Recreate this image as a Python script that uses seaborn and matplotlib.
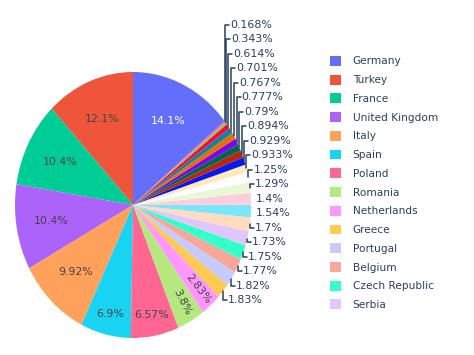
"""Pie chart of country shares, drawn in the style of a plotly pie."""

import colorsys

import matplotlib.colors as mcolors
import matplotlib.pyplot as plt
import numpy as np
import seaborn as sns

countries = [
    "Germany", "Turkey", "France", "United Kingdom", "Italy", "Spain",
    "Poland", "Romania", "Netherlands", "Greece", "Portugal", "Belgium",
    "Czech Republic", "Serbia", "Hungary", "Sweden", "Austria", "Bulgaria",
    "Denmark", "Finland", "Slovakia", "Norway", "Ireland", "Croatia",
    "Lithuania", "Slovenia", "Latvia", "Estonia", "Luxembourg",
]
shares = [
    14.1, 12.1, 10.4, 10.4, 9.92, 6.9, 6.57, 3.8, 2.83, 1.83, 1.82, 1.77,
    1.75, 1.73, 1.7, 1.54, 1.4, 1.29, 1.25, 0.933, 0.929, 0.894, 0.79,
    0.777, 0.767, 0.701, 0.614, 0.343, 0.168,
]
pct_labels = [
    "14.1%", "12.1%", "10.4%", "10.4%", "9.92%", "6.9%", "6.57%", "3.8%",
    "2.83%", "1.83%", "1.82%", "1.77%", "1.75%", "1.73%", "1.7%", "1.54%",
    "1.4%", "1.29%", "1.25%", "0.933%", "0.929%", "0.894%", "0.79%",
    "0.777%", "0.767%", "0.701%", "0.614%", "0.343%", "0.168%",
]
legend_shown = 14
base_colors = [
    "#636efa", "#EF553B", "#00cc96", "#ab63fa", "#FFA15A",
    "#19d3f3", "#FF6692", "#B6E880", "#FF97FF", "#FECB52",
]

W, H = 474, 355
CX, CY = 133, 205   # pie centre (pixels, y down)
RX, RY = 118, 133   # screenshot is stretched vertically
TEXT_DARK = "#444444"
TEXT_FONT = "#2a3f5f"
LABEL_SIZE = 7.9


def _shade(color, amount):
    r, g, b = mcolors.to_rgb(color)
    h, l, s = colorsys.rgb_to_hls(r, g, b)
    return colorsys.hls_to_rgb(h, min(1.0, max(0.0, l + amount)), s)


def _is_dark(color):
    r, g, b = [c * 255 for c in mcolors.to_rgb(color)]
    return (r * 299 + g * 587 + b * 114) / 1000 < 128


sns.set_theme(style="white")
plt.rcParams["font.family"] = ["DejaVu Sans"]

palette = (
    list(base_colors)
    + [_shade(c, 0.2) for c in base_colors]
    + [_shade(c, -0.2) for c in base_colors]
)
colors = palette[: len(shares)]

fig = plt.figure(figsize=(W / 100, H / 100), dpi=100)
ax = fig.add_axes([0, 0, 1, 1])

start = 90 - 360 * shares[0] / sum(shares)
wedges, _ = ax.pie(
    shares,
    colors=colors,
    startangle=start,
    counterclock=True,
    radius=1,
    center=(0, 0),
    wedgeprops=dict(linewidth=0),
)
ax.set_aspect("auto")
ax.set_xlim(-CX / RX, (W - CX) / RX)
ax.set_ylim(-(H - CY) / RY, CY / RY)
ax.axis("off")

px_to_x = lambda px: (px - CX) / RX
py_to_y = lambda py: (CY - py) / RY

# inside labels
outside = []
for i, w in enumerate(wedges):
    mid = np.deg2rad((w.theta1 + w.theta2) / 2)
    if shares[i] < 2.5:
        outside.append((i, mid))
        continue
    r = 0.7 if shares[i] > 8 else 0.84
    rot = 0
    if shares[i] < 5:
        rot = np.degrees(np.arctan2(RY * np.sin(mid), RX * np.cos(mid)))
    ax.text(
        r * np.cos(mid), r * np.sin(mid), pct_labels[i],
        ha="center", va="center", rotation=rot, rotation_mode="anchor",
        fontsize=LABEL_SIZE,
        color="white" if _is_dark(colors[i]) else TEXT_DARK,
    )

# outside labels, stacked away from the one nearest the horizontal
spacing = 14.5
edge_x = [CX + RX * np.cos(m) for _, m in outside]
edge_y = [CY - RY * np.sin(m) for _, m in outside]
label_y = list(edge_y)
pivot = int(np.argmin([abs(np.sin(m)) for _, m in outside]))
for j in range(pivot + 1, len(outside)):
    label_y[j] = min(edge_y[j], label_y[j - 1] - spacing)
for j in range(pivot - 1, -1, -1):
    label_y[j] = max(edge_y[j], label_y[j + 1] + spacing)

for j, (i, _) in enumerate(outside):
    ex, ey, ly = edge_x[j], edge_y[j], label_y[j] + 2
    if abs(ly - ey) > 2:
        ax.plot(
            [px_to_x(ex), px_to_x(ex), px_to_x(ex + 4)],
            [py_to_y(ey), py_to_y(ly), py_to_y(ly)],
            color=TEXT_FONT, lw=1.1, clip_on=False,
        )
    ax.text(
        px_to_x(ex + 5), py_to_y(ly), pct_labels[i],
        ha="left", va="center", fontsize=LABEL_SIZE, color=TEXT_FONT,
    )

fig.legend(
    wedges[:legend_shown],
    countries[:legend_shown],
    loc="upper left",
    bbox_to_anchor=(329.5 / W, 1 - 56 / H),
    frameon=False,
    fontsize=7.6,
    handlelength=1.05,
    handleheight=1.05,
    handletextpad=1.15,
    labelspacing=0.78,
    borderpad=0,
    borderaxespad=0,
    labelcolor=TEXT_FONT,
)

fig.savefig("out.png", dpi=100, facecolor="white")
